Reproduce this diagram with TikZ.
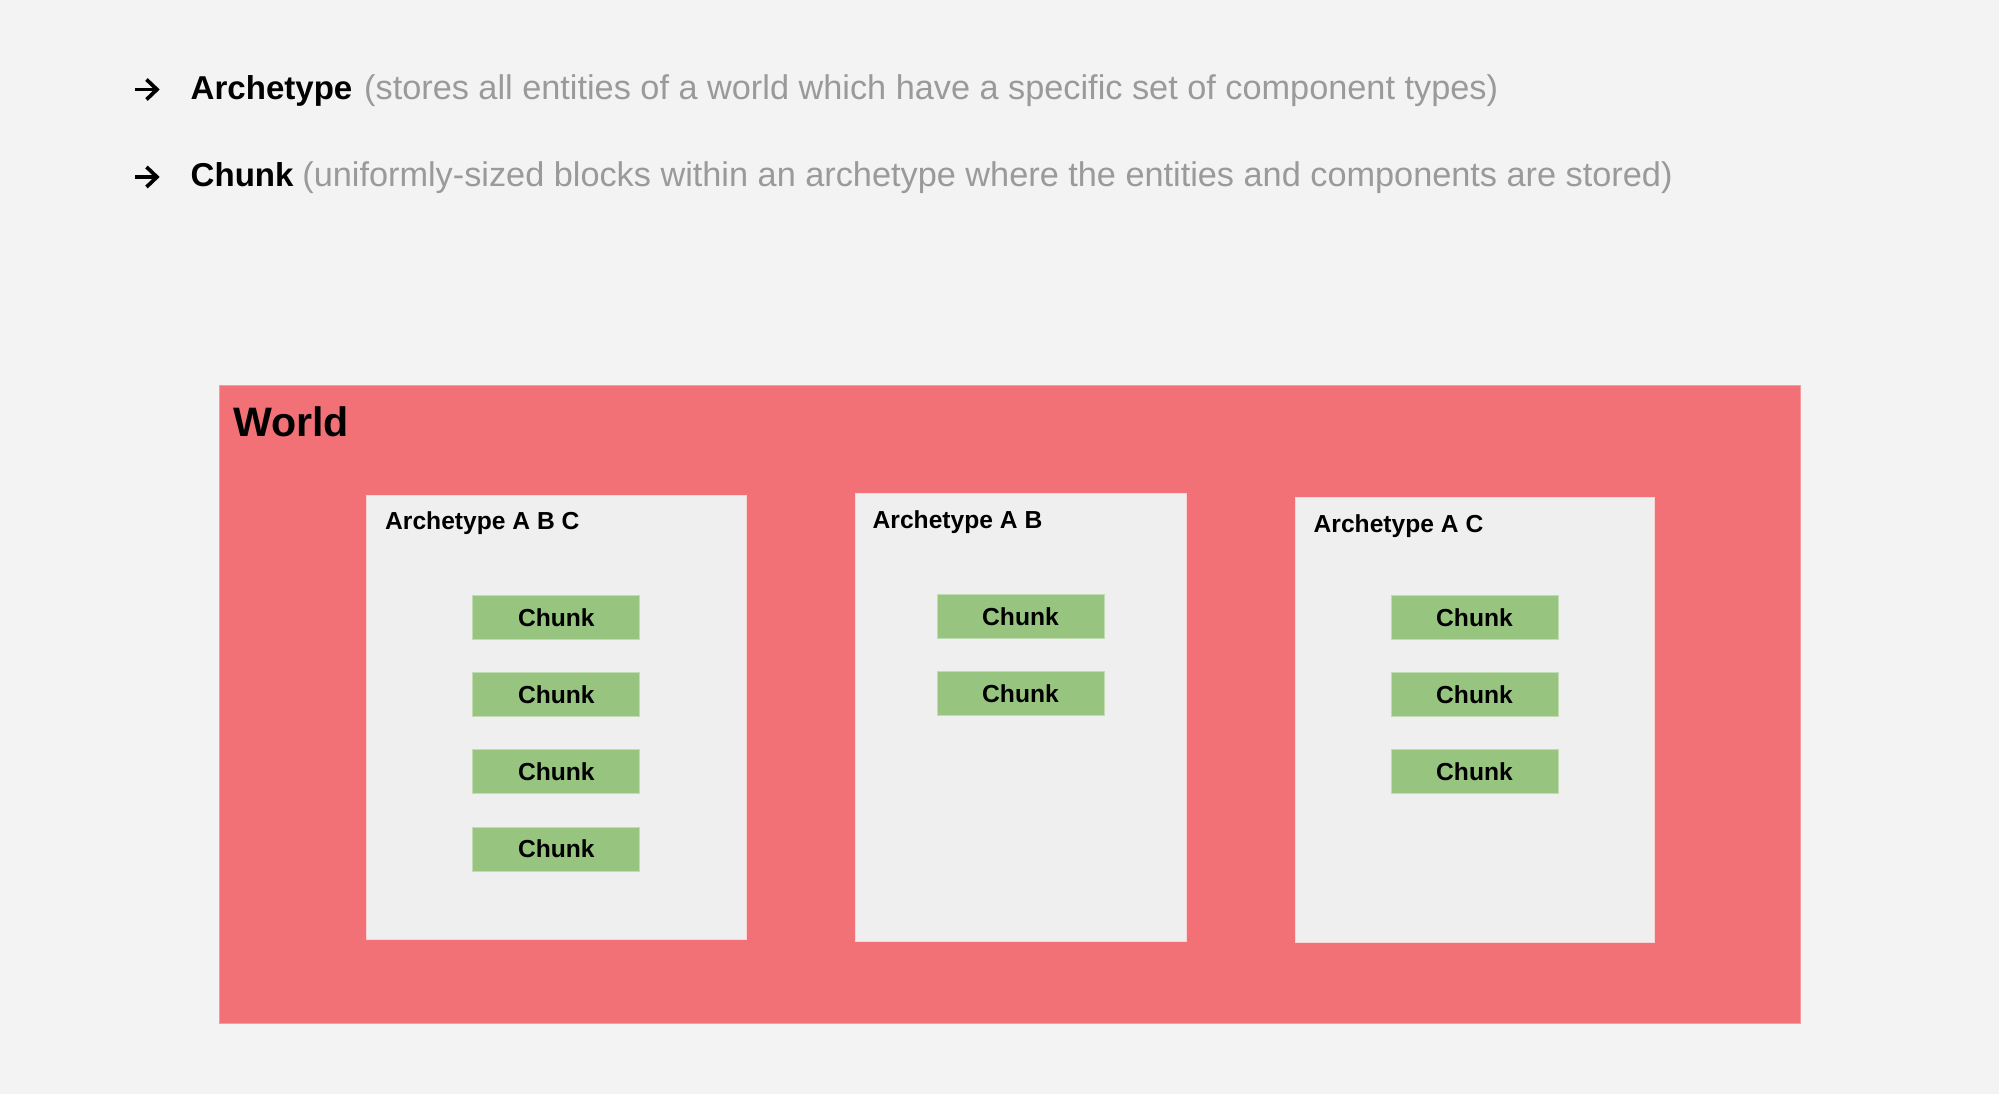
\documentclass[tikz,border=0pt]{standalone}
\usepackage{fontspec}
\setmainfont{Liberation Sans}
\usepackage{xcolor}
\definecolor{page-bg}{HTML}{F3F3F3}
\definecolor{world-red}{HTML}{F17176}
\definecolor{archetype-bg}{HTML}{EFEFEF}
\definecolor{chunk-green}{HTML}{97C47F}
\definecolor{note-gray}{HTML}{9A9A9A}

\begin{document}
\begin{tikzpicture}[x=0.01cm,y=-0.01cm,
	term/.style={anchor=base west,inner sep=0pt,font=\fontsize{9.4}{11}\selectfont\bfseries},
	note/.style={anchor=base west,inner sep=0pt,text=note-gray,font=\fontsize{9.75}{11}\selectfont},
	bullet/.style={line width=1.05pt,line join=miter},
	archetype/.style={fill=archetype-bg,draw=world-red!30!white,line width=0.25pt},
	boxlabel/.style={anchor=base west,inner sep=0pt,font=\fontsize{7}{8}\selectfont\bfseries},
	chunk/.style={fill=chunk-green,draw=chunk-green!60!white,line width=0.25pt,inner sep=0pt,
		minimum width=1.67cm,minimum height=0.44cm,font=\fontsize{7}{8}\selectfont\bfseries}]
	\useasboundingbox[fill=page-bg] (0,0) rectangle (1999,1094);
	% legend
	\draw[bullet] (135,89.5) -- (156.5,89.5);
	\draw[bullet] (146.5,79.5) -- (157,89.5) -- (146.5,99.5);
	\node (archetype-term) [term] at (190,99.3) {Archetype};
	\node (archetype-note) [note] at (363.5,99.3) {(stores all entities of a world which have a specific set of component types)};
	\draw[bullet] (135,177) -- (156.5,177);
	\draw[bullet] (146.5,167) -- (157,177) -- (146.5,187);
	\node (chunk-term) [term] at (190,186.7) {Chunk};
	\node (chunk-note) [note] at (301.7,186.7) {(uniformly-sized blocks within an archetype where the entities and components are stored)};
	% world
	\draw[fill=world-red,draw=world-red!70!white,line width=0.25pt] (219,385) rectangle (1800,1023);
	\node (world) [anchor=base west,inner sep=0pt,font=\fontsize{11.7}{14}\selectfont\bfseries] at (232.5,436) {World};
	% archetypes
	\draw[archetype] (366,495) rectangle (746,939);
	\node (abc) [boxlabel] at (384.5,529.5) {Archetype A B C};
	\draw[archetype] (855,493) rectangle (1186,941);
	\node (ab) [boxlabel] at (872,528) {Archetype A B};
	\draw[archetype] (1295,497) rectangle (1654,942);
	\node (ac) [boxlabel] at (1313,532) {Archetype A C};
	% chunks
	\node (abc-1) [chunk] at (556.3,617.5) {Chunk};
	\node (abc-2) [chunk] at (556.3,694.5) {Chunk};
	\node (abc-3) [chunk] at (556.3,771.8) {Chunk};
	\node (abc-4) [chunk] at (556.3,849) {Chunk};
	\node (ab-1) [chunk] at (1020.5,616.3) {Chunk};
	\node (ab-2) [chunk] at (1020.5,693.5) {Chunk};
	\node (ac-1) [chunk] at (1474.5,617.5) {Chunk};
	\node (ac-2) [chunk] at (1474.5,694.7) {Chunk};
	\node (ac-3) [chunk] at (1474.5,771.8) {Chunk};
\end{tikzpicture}
\end{document}
